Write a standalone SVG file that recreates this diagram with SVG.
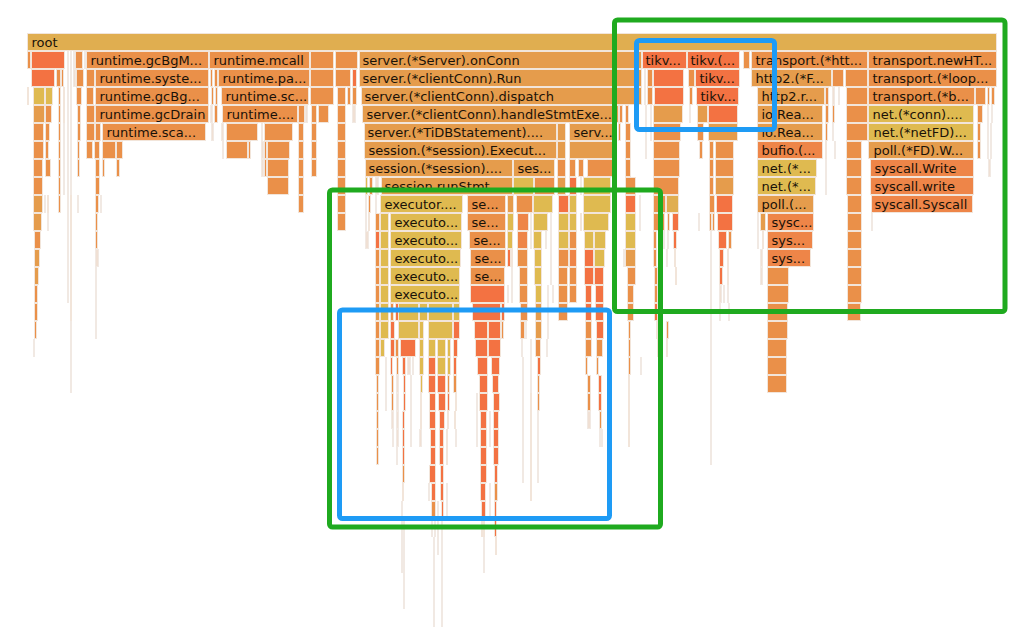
<svg xmlns="http://www.w3.org/2000/svg" width="1014" height="627" viewBox="0 0 1014 627">
<style>
#flame rect{height:17px;stroke:#f2e5da;stroke-width:1}
#flame .o{fill:#ea9049}#flame .a{fill:#e59c4c}#flame .y{fill:#dfba50}#flame .r{fill:#f37242}#flame .d{fill:#ee8548}#flame .k{fill:#e0ae50}#flame .p{fill:#f0e0d4;stroke:#f1e9e3}
text{font-family:"DejaVu Sans",Verdana,sans-serif;font-size:13px;fill:#1a1208}
.box{fill:none;stroke-width:5}
.gb{stroke:#1faa1f}.bb{stroke:#1e9bf5}
</style>
<rect width="1014" height="627" fill="#fff"/>
<g id="flame">
<g id="row0" transform="translate(.5,33.5)"><rect class="k" x="27" width="969"/><text x="31" y="13">root</text></g>
<g id="row1" transform="translate(.5,51.5)">
<rect class="o" x="27" width="3"/><rect class="r" x="31" width="33"/><rect class="p" x="67" width="1"/><rect class="p" x="70" width="1"/><rect class="p" x="73" width="1"/><rect class="o" x="75" width="7"/><rect class="p" x="84" width="1"/>
<rect class="o" x="86" width="122"/><rect class="o" x="209" width="100"/><rect class="o" x="310" width="23"/><rect class="o" x="335" width="22"/><rect class="a" x="359" width="282"/><rect class="r" x="642" width="44"/><rect class="r" x="687" width="52"/><rect class="o" x="743" width="6"/><rect class="o" x="751" width="116"/><rect class="o" x="868" width="128"/>
<text x="90" y="13">runtime.gcBgM...</text><text x="213" y="13">runtime.mcall</text><text x="362" y="13">server.(*Server).onConn</text><text x="645" y="13">tikv...</text><text x="690" y="13">tikv.(...</text><text x="755" y="13">transport.(*htt...</text><text x="872" y="13">transport.newHT...</text></g>
<g id="row2" transform="translate(.5,69.5)">
<rect class="r" x="31" width="23"/><rect class="o" x="56" width="4"/><rect class="o" x="61" width="2"/><rect class="p" x="67" width="1"/><rect class="p" x="70" width="1"/><rect class="p" x="73" width="2"/><rect class="o" x="76" width="7"/><rect class="o" x="86" width="8"/>
<rect class="o" x="95" width="113"/><rect class="o" x="210" width="2"/><rect class="o" x="214" width="3"/><rect class="o" x="218" width="91"/><rect class="o" x="310" width="23"/><rect class="o" x="335" width="15"/><rect class="r" x="352" width="4"/><rect class="a" x="359" width="282"/><rect class="p" x="644" width="1"/><rect class="o" x="647" width="5"/><rect class="r" x="653" width="30"/><rect class="o" x="688" width="6"/><rect class="r" x="695" width="44"/><rect class="a" x="751" width="80"/><rect class="o" x="832" width="11"/><rect class="o" x="845" width="22"/><rect class="o" x="868" width="128"/>
<text x="99" y="13">runtime.syste...</text><text x="222" y="13">runtime.pa...</text><text x="362" y="13">server.(*clientConn).Run</text><text x="699" y="13">tikv...</text><text x="755" y="13">http2.(*F...</text><text x="872" y="13">transport.(*loop...</text></g>
<g id="row3" transform="translate(.5,87.5)">
<rect class="o" x="27" width="1"/><rect class="y" x="33" width="11"/><rect class="y" x="45" width="7"/><rect class="o" x="58" width="2"/><rect class="o" x="63" width="1"/><rect class="p" x="67" width="1"/><rect class="p" x="70" width="1"/><rect class="o" x="76" width="5"/><rect class="o" x="86" width="7"/>
<rect class="o" x="95" width="113"/><rect class="o" x="211" width="2"/><rect class="o" x="215" width="2"/><rect class="o" x="221" width="87"/><rect class="o" x="310" width="23"/><rect class="o" x="337" width="8"/><rect class="o" x="347" width="3"/><rect class="o" x="352" width="4"/><rect class="a" x="361" width="280"/><rect class="p" x="644" width="1"/><rect class="o" x="647" width="5"/><rect class="r" x="654" width="29"/><rect class="o" x="689" width="3"/><rect class="r" x="696" width="42"/><rect class="a" x="757" width="67"/><rect class="o" x="825" width="3"/><rect class="p" x="832" width="2"/><rect class="p" x="838" width="1"/><rect class="o" x="846" width="21"/><rect class="o" x="868" width="106"/><rect class="o" x="975" width="10"/><rect class="o" x="987" width="2"/><rect class="o" x="991" width="3"/>
<text x="99" y="13">runtime.gcBg...</text><text x="225" y="13">runtime.sc...</text><text x="364" y="13">server.(*clientConn).dispatch</text><text x="700" y="13">tikv...</text><text x="761" y="13">http2.r...</text><text x="872" y="13">transport.(*b...</text></g>
<g id="row4" transform="translate(.5,105.5)">
<rect class="a" x="33" width="11"/><rect class="o" x="45" width="6"/><rect class="o" x="58" width="2"/><rect class="o" x="63" width="1"/><rect class="p" x="67" width="1"/><rect class="p" x="70" width="1"/><rect class="o" x="77" width="3"/><rect class="o" x="86" width="8"/>
<rect class="o" x="95" width="113"/><rect class="p" x="210" width="2"/><rect class="o" x="214" width="3"/><rect class="o" x="222" width="75"/><rect class="o" x="298" width="6"/><rect class="p" x="305" width="2"/><rect class="o" x="311" width="5"/><rect class="o" x="318" width="10"/><rect class="o" x="337" width="8"/><rect class="p" x="352" width="3"/><rect class="a" x="362" width="256"/><rect class="o" x="619" width="3"/><rect class="o" x="625" width="3"/><rect class="p" x="645" width="1"/><rect class="p" x="650" width="1"/><rect class="a" x="653" width="29"/><rect class="p" x="689" width="1"/><rect class="a" x="697" width="10"/><rect class="r" x="708" width="29"/><rect class="a" x="757" width="65"/><rect class="o" x="825" width="3"/><rect class="o" x="832" width="2"/><rect class="o" x="846" width="21"/><rect class="y" x="868" width="105"/><rect class="o" x="977" width="5"/><rect class="p" x="987" width="1"/><rect class="p" x="991" width="1"/>
<text x="99" y="13">runtime.gcDrain</text><text x="226" y="13">runtime....</text><text x="366" y="13">server.(*clientConn).handleStmtExe...</text><text x="761" y="13">io.Rea...</text><text x="872" y="13">net.(*conn)....</text></g>
<g id="row5" transform="translate(.5,123.5)">
<rect class="o" x="33" width="10"/><rect class="o" x="45" width="4"/><rect class="o" x="58" width="2"/><rect class="p" x="63" width="1"/><rect class="p" x="67" width="1"/><rect class="p" x="70" width="1"/><rect class="o" x="77" width="3"/><rect class="o" x="86" width="8"/><rect class="o" x="95" width="5"/>
<rect class="o" x="102" width="103"/><rect class="p" x="211" width="2"/><rect class="p" x="221" width="2"/><rect class="o" x="226" width="31"/><rect class="p" x="261" width="1"/><rect class="o" x="264" width="28"/><rect class="o" x="298" width="5"/><rect class="o" x="311" width="5"/><rect class="o" x="337" width="8"/><rect class="a" x="364" width="192"/><rect class="a" x="557" width="8"/><rect class="a" x="569" width="44"/><rect class="o" x="618" width="2"/><rect class="o" x="625" width="5"/><rect class="p" x="645" width="1"/><rect class="p" x="650" width="1"/><rect class="o" x="653" width="27"/><rect class="o" x="697" width="6"/><rect class="a" x="708" width="29"/><rect class="a" x="757" width="65"/><rect class="o" x="825" width="2"/><rect class="p" x="832" width="1"/><rect class="o" x="846" width="21"/><rect class="y" x="868" width="105"/><rect class="o" x="977" width="3"/><rect class="p" x="987" width="1"/><rect class="p" x="990" width="1"/>
<text x="106" y="13">runtime.sca...</text><text x="367" y="13">server.(*TiDBStatement)....</text><text x="573" y="13">serv...</text><text x="761" y="13">io.Rea...</text><text x="873" y="13">net.(*netFD)...</text></g>
<g id="row6" transform="translate(.5,141.5)">
<rect class="o" x="33" width="10"/><rect class="o" x="45" width="3"/><rect class="o" x="58" width="2"/><rect class="p" x="63" width="1"/><rect class="p" x="67" width="1"/><rect class="p" x="70" width="1"/><rect class="o" x="77" width="2"/><rect class="o" x="86" width="6"/><rect class="o" x="94" width="5"/><rect class="o" x="102" width="13"/><rect class="o" x="116" width="6"/>
<rect class="p" x="222" width="1"/><rect class="o" x="226" width="21"/><rect class="o" x="248" width="2"/><rect class="p" x="261" width="2"/><rect class="o" x="264" width="2"/><rect class="o" x="267" width="22"/><rect class="o" x="298" width="5"/><rect class="o" x="311" width="5"/><rect class="o" x="337" width="8"/><rect class="a" x="364" width="192"/><rect class="a" x="557" width="8"/><rect class="a" x="569" width="44"/><rect class="o" x="625" width="5"/><rect class="p" x="645" width="1"/><rect class="o" x="653" width="26"/><rect class="o" x="699" width="3"/><rect class="o" x="709" width="4"/><rect class="o" x="715" width="18"/><rect class="d" x="757" width="65"/><rect class="o" x="825" width="1"/><rect class="p" x="834" width="1"/><rect class="o" x="846" width="15"/><rect class="a" x="868" width="105"/><rect class="o" x="977" width="3"/><rect class="p" x="987" width="1"/><rect class="p" x="990" width="1"/>
<text x="368" y="13">session.(*session).Execut...</text><text x="761" y="13">bufio.(...</text><text x="873" y="13">poll.(*FD).W...</text></g>
<g id="row7" transform="translate(.5,159.5)">
<rect class="o" x="33" width="9"/><rect class="o" x="45" width="5"/><rect class="o" x="58" width="2"/><rect class="p" x="63" width="1"/><rect class="p" x="67" width="1"/><rect class="p" x="70" width="1"/><rect class="o" x="77" width="2"/><rect class="o" x="95" width="4"/><rect class="o" x="102" width="2"/><rect class="o" x="116" width="3"/>
<rect class="p" x="261" width="2"/><rect class="o" x="264" width="2"/><rect class="o" x="267" width="21"/><rect class="o" x="298" width="5"/><rect class="o" x="311" width="5"/><rect class="o" x="337" width="8"/><rect class="a" x="365" width="147"/><rect class="a" x="513" width="41"/><rect class="o" x="557" width="8"/><rect class="o" x="569" width="6"/><rect class="o" x="578" width="5"/><rect class="o" x="587" width="26"/><rect class="o" x="625" width="5"/><rect class="o" x="653" width="26"/><rect class="o" x="709" width="4"/><rect class="o" x="715" width="18"/><rect class="y" x="757" width="59"/><rect class="p" x="825" width="1"/><rect class="o" x="846" width="15"/><rect class="d" x="870" width="103"/><rect class="p" x="988" width="2"/>
<text x="368" y="13">session.(*session)....</text><text x="517" y="13">ses...</text><text x="761" y="13">net.(*...</text><text x="874" y="13">syscall.Write</text></g>
<g id="row8" transform="translate(.5,177.5)">
<rect class="o" x="33" width="9"/><rect class="o" x="58" width="2"/><rect class="p" x="63" width="1"/><rect class="p" x="67" width="1"/><rect class="p" x="70" width="1"/><rect class="o" x="95" width="4"/><rect class="o" x="267" width="21"/><rect class="o" x="298" width="5"/><rect class="o" x="337" width="8"/>
<rect class="y" x="365" width="2"/><rect class="o" x="369" width="3"/><rect class="p" x="375" width="3"/><rect class="a" x="381" width="131"/><rect class="y" x="513" width="20"/><rect class="o" x="534" width="20"/><rect class="a" x="557" width="8"/><rect class="r" x="569" width="7"/><rect class="p" x="580" width="1"/><rect class="y" x="583" width="27"/><rect class="o" x="625" width="10"/><rect class="o" x="653" width="25"/><rect class="o" x="709" width="4"/><rect class="a" x="715" width="18"/><rect class="y" x="757" width="58"/><rect class="p" x="825" width="1"/><rect class="o" x="846" width="15"/><rect class="d" x="870" width="103"/>
<text x="384" y="13">session.runStmt</text><text x="761" y="13">net.(*...</text><text x="874" y="13">syscall.write</text></g>
<g id="row9" transform="translate(.5,195.5)">
<rect class="a" x="33" width="9"/><rect class="p" x="44" width="1"/><rect class="o" x="47" width="1"/><rect class="o" x="58" width="2"/><rect class="p" x="67" width="1"/><rect class="o" x="70" width="1"/><rect class="p" x="77" width="1"/><rect class="o" x="95" width="3"/><rect class="p" x="100" width="1"/><rect class="o" x="298" width="5"/>
<rect class="o" x="337" width="8"/><rect class="p" x="365" width="1"/><rect class="o" x="368" width="2"/><rect class="p" x="375" width="1"/><rect class="y" x="380" width="82"/><rect class="o" x="467" width="38"/><rect class="a" x="507" width="6"/><rect class="o" x="516" width="16"/><rect class="y" x="533" width="19"/><rect class="r" x="558" width="10"/><rect class="y" x="569" width="7"/><rect class="y" x="583" width="27"/><rect class="r" x="625" width="10"/><rect class="p" x="639" width="1"/><rect class="o" x="653" width="12"/><rect class="k" x="666" width="12"/><rect class="o" x="709" width="5"/><rect class="r" x="716" width="16"/><rect class="a" x="757" width="56"/><rect class="o" x="847" width="14"/><rect class="d" x="871" width="101"/>
<text x="384" y="13">executor....</text><text x="471" y="13">se...</text><text x="761" y="13">poll.(...</text><text x="874" y="13">syscall.Syscall</text></g>
<g id="row10" transform="translate(.5,213.5)">
<rect class="a" x="33" width="8"/><rect class="p" x="47" width="1"/><rect class="p" x="67" width="1"/><rect class="o" x="70" width="1"/><rect class="o" x="95" width="2"/><rect class="o" x="337" width="8"/><rect class="p" x="365" width="1"/><rect class="o" x="368" width="1"/><rect class="o" x="375" width="4"/><rect class="y" x="380" width="8"/>
<rect class="y" x="390" width="71"/><rect class="o" x="467" width="38"/><rect class="y" x="507" width="6"/><rect class="d" x="517" width="11"/><rect class="p" x="530" width="1"/><rect class="y" x="533" width="14"/><rect class="p" x="550" width="1"/><rect class="y" x="558" width="10"/><rect class="y" x="569" width="7"/><rect class="r" x="580" width="1"/><rect class="y" x="583" width="25"/><rect class="y" x="625" width="10"/><rect class="p" x="639" width="1"/><rect class="o" x="653" width="5"/><rect class="o" x="662" width="2"/><rect class="o" x="667" width="2"/><rect class="r" x="672" width="6"/><rect class="p" x="698" width="1"/><rect class="o" x="709" width="2"/><rect class="o" x="712" width="2"/><rect class="r" x="717" width="15"/><rect class="p" x="757" width="1"/><rect class="a" x="760" width="5"/><rect class="d" x="767" width="46"/><rect class="o" x="847" width="14"/><rect class="p" x="871" width="1"/>
<text x="394" y="13">executo...</text><text x="471" y="13">se...</text><text x="771" y="13">sysc...</text></g>
<g id="row11" transform="translate(.5,231.5)">
<rect class="o" x="34" width="6"/><rect class="p" x="67" width="1"/><rect class="o" x="70" width="1"/><rect class="o" x="95" width="2"/><rect class="p" x="365" width="3"/><rect class="r" x="375" width="4"/><rect class="y" x="380" width="8"/>
<rect class="y" x="390" width="71"/><rect class="o" x="469" width="36"/><rect class="y" x="507" width="5"/><rect class="d" x="517" width="10"/><rect class="p" x="530" width="1"/><rect class="y" x="533" width="8"/><rect class="p" x="545" width="1"/><rect class="p" x="550" width="1"/><rect class="y" x="558" width="10"/><rect class="o" x="569" width="7"/><rect class="y" x="584" width="9"/><rect class="y" x="594" width="11"/><rect class="y" x="625" width="10"/><rect class="o" x="653" width="3"/><rect class="p" x="663" width="1"/><rect class="p" x="667" width="1"/><rect class="r" x="673" width="3"/><rect class="p" x="710" width="1"/><rect class="r" x="718" width="8"/><rect class="o" x="728" width="3"/><rect class="p" x="757" width="1"/><rect class="o" x="762" width="1"/><rect class="d" x="767" width="45"/><rect class="o" x="847" width="14"/>
<text x="394" y="13">executo...</text><text x="473" y="13">se...</text><text x="771" y="13">sys...</text></g>
<g id="row12" transform="translate(.5,249.5)">
<rect class="a" x="34" width="5"/><rect class="p" x="67" width="1"/><rect class="y" x="70" width="1"/><rect class="p" x="95" width="3"/><rect class="o" x="375" width="4"/><rect class="y" x="380" width="8"/>
<rect class="y" x="390" width="70"/><rect class="o" x="470" width="35"/><rect class="r" x="507" width="3"/><rect class="o" x="511" width="1"/><rect class="o" x="517" width="10"/><rect class="y" x="534" width="7"/><rect class="p" x="550" width="1"/><rect class="o" x="558" width="10"/><rect class="d" x="569" width="7"/><rect class="r" x="584" width="9"/><rect class="y" x="594" width="10"/><rect class="a" x="625" width="10"/><rect class="p" x="623" width="1"/><rect class="o" x="653" width="3"/><rect class="p" x="666" width="1"/><rect class="o" x="674" width="1"/><rect class="p" x="710" width="1"/><rect class="r" x="719" width="4"/><rect class="o" x="727" width="1"/><rect class="p" x="760" width="2"/><rect class="d" x="767" width="43"/><rect class="o" x="847" width="14"/>
<text x="394" y="13">executo...</text><text x="474" y="13">se...</text><text x="771" y="13">sys...</text></g>
<g id="row13" transform="translate(.5,267.5)">
<rect class="a" x="34" width="4"/><rect class="p" x="67" width="1"/><rect class="y" x="70" width="1"/><rect class="p" x="95" width="1"/><rect class="o" x="375" width="4"/><rect class="y" x="380" width="8"/>
<rect class="y" x="390" width="69"/><rect class="o" x="470" width="34"/><rect class="p" x="511" width="1"/><rect class="o" x="519" width="8"/><rect class="y" x="534" width="7"/><rect class="p" x="550" width="1"/><rect class="o" x="558" width="9"/><rect class="o" x="569" width="7"/><rect class="r" x="584" width="9"/><rect class="r" x="594" width="9"/><rect class="o" x="627" width="8"/><rect class="o" x="654" width="3"/><rect class="o" x="675" width="1"/><rect class="p" x="710" width="1"/><rect class="r" x="719" width="3"/><rect class="o" x="727" width="1"/><rect class="p" x="760" width="2"/><rect class="o" x="767" width="21"/><rect class="o" x="847" width="14"/>
<text x="394" y="13">executo...</text><text x="474" y="13">se...</text></g>
<g id="row14" transform="translate(.5,285.5)">
<rect class="o" x="34" width="3"/><rect class="p" x="67" width="1"/><rect class="y" x="70" width="1"/><rect class="p" x="95" width="1"/><rect class="o" x="375" width="4"/><rect class="y" x="380" width="8"/>
<rect class="y" x="390" width="69"/><rect class="r" x="470" width="34"/><rect class="p" x="507" width="1"/><rect class="p" x="511" width="1"/><rect class="o" x="519" width="8"/><rect class="y" x="535" width="6"/><rect class="p" x="547" width="1"/><rect class="p" x="552" width="1"/><rect class="o" x="558" width="9"/><rect class="o" x="569" width="7"/><rect class="r" x="585" width="6"/><rect class="r" x="595" width="8"/><rect class="o" x="627" width="6"/><rect class="o" x="654" width="3"/><rect class="p" x="710" width="1"/><rect class="p" x="719" width="2"/><rect class="p" x="723" width="1"/><rect class="p" x="727" width="1"/><rect class="o" x="767" width="21"/><rect class="o" x="847" width="14"/>
<text x="394" y="13">executo...</text></g>
<g id="row15" transform="translate(.5,303.5)">
<rect class="o" x="34" width="3"/><rect class="y" x="70" width="1"/><rect class="p" x="95" width="1"/><rect class="a" x="375" width="4"/><rect class="y" x="380" width="8"/><rect class="o" x="390" width="3"/><rect class="r" x="395" width="3"/><rect class="y" x="398" width="20"/><rect class="y" x="419" width="8"/><rect class="y" x="428" width="24"/><rect class="y" x="453" width="6"/><rect class="r" x="472" width="28"/><rect class="r" x="501" width="3"/><rect class="o" x="520" width="7"/><rect class="a" x="535" width="6"/><rect class="p" x="547" width="1"/><rect class="o" x="558" width="9"/><rect class="r" x="585" width="6"/><rect class="r" x="595" width="8"/><rect class="o" x="627" width="6"/><rect class="r" x="654" width="3"/><rect class="p" x="710" width="1"/><rect class="p" x="719" width="1"/><rect class="p" x="728" width="1"/><rect class="o" x="767" width="20"/><rect class="o" x="847" width="13"/></g>
<g id="row16" transform="translate(.5,321.5)">
<rect class="o" x="34" width="2"/><rect class="p" x="70" width="1"/><rect class="p" x="95" width="1"/><rect class="o" x="375" width="4"/><rect class="y" x="380" width="8"/><rect class="r" x="390" width="4"/><rect class="y" x="398" width="20"/><rect class="y" x="419" width="4"/><rect class="y" x="428" width="24"/><rect class="r" x="453" width="6"/><rect class="r" x="474" width="13"/><rect class="r" x="488" width="12"/><rect class="o" x="501" width="2"/><rect class="o" x="520" width="4"/><rect class="p" x="525" width="1"/><rect class="a" x="535" width="6"/><rect class="p" x="547" width="1"/><rect class="o" x="585" width="6"/><rect class="r" x="596" width="7"/><rect class="o" x="628" width="2"/><rect class="d" x="656" width="1"/><rect class="o" x="666" width="2"/><rect class="p" x="710" width="1"/><rect class="o" x="767" width="20"/></g>
<g id="row17" transform="translate(.5,339.5)">
<rect class="p" x="33" width="1"/><rect class="p" x="70" width="1"/><rect class="o" x="375" width="4"/><rect class="y" x="380" width="4"/><rect class="r" x="390" width="4"/><rect class="o" x="395" width="3"/><rect class="r" x="400" width="15"/><rect class="y" x="419" width="4"/><rect class="y" x="428" width="7"/><rect class="y" x="437" width="8"/><rect class="y" x="447" width="3"/><rect class="r" x="453" width="4"/><rect class="r" x="475" width="12"/><rect class="r" x="488" width="12"/><rect class="p" x="521" width="1"/><rect class="p" x="530" width="1"/><rect class="o" x="535" width="5"/><rect class="p" x="546" width="1"/><rect class="o" x="585" width="6"/><rect class="o" x="596" width="6"/><rect class="o" x="628" width="2"/><rect class="d" x="657" width="1"/><rect class="o" x="666" width="1"/><rect class="p" x="710" width="1"/><rect class="o" x="767" width="19"/></g>
<g id="row18" transform="translate(.5,357.5)">
<rect class="p" x="70" width="1"/><rect class="o" x="375" width="4"/><rect class="p" x="385" width="1"/><rect class="r" x="390" width="2"/><rect class="o" x="396" width="2"/><rect class="r" x="402" width="3"/><rect class="p" x="407" width="3"/><rect class="p" x="412" width="1"/><rect class="y" x="419" width="4"/><rect class="r" x="428" width="7"/><rect class="y" x="437" width="8"/><rect class="y" x="447" width="3"/><rect class="r" x="453" width="3"/><rect class="r" x="477" width="10"/><rect class="r" x="491" width="8"/><rect class="p" x="522" width="1"/><rect class="p" x="530" width="1"/><rect class="r" x="537" width="3"/><rect class="o" x="585" width="2"/><rect class="o" x="596" width="2"/><rect class="o" x="628" width="2"/><rect class="p" x="640" width="1"/><rect class="p" x="710" width="1"/><rect class="o" x="767" width="19"/></g>
<g id="row19" transform="translate(.5,375.5)">
<rect class="p" x="70" width="1"/><rect class="o" x="376" width="2"/><rect class="p" x="385" width="1"/><rect class="o" x="391" width="2"/><rect class="p" x="396" width="2"/><rect class="r" x="403" width="2"/><rect class="p" x="410" width="1"/><rect class="y" x="420" width="2"/><rect class="r" x="428" width="7"/><rect class="r" x="437" width="8"/><rect class="o" x="447" width="2"/><rect class="o" x="453" width="3"/><rect class="r" x="479" width="8"/><rect class="r" x="492" width="6"/><rect class="p" x="522" width="1"/><rect class="p" x="530" width="1"/><rect class="o" x="537" width="2"/><rect class="o" x="587" width="3"/><rect class="r" x="598" width="3"/><rect class="o" x="628" width="1"/><rect class="p" x="710" width="1"/><rect class="o" x="767" width="19"/></g>
<g id="row20" transform="translate(.5,393.5)">
<rect class="o" x="376" width="2"/><rect class="p" x="385" width="1"/><rect class="o" x="391" width="2"/><rect class="p" x="396" width="2"/><rect class="r" x="403" width="2"/><rect class="p" x="410" width="1"/><rect class="y" x="420" width="1"/><rect class="r" x="429" width="6"/><rect class="r" x="438" width="7"/><rect class="r" x="447" width="2"/><rect class="o" x="455" width="1"/><rect class="p" x="476" width="1"/><rect class="r" x="479" width="8"/><rect class="r" x="493" width="6"/><rect class="p" x="522" width="1"/><rect class="o" x="530" width="1"/><rect class="o" x="537" width="2"/><rect class="o" x="587" width="3"/><rect class="r" x="598" width="3"/><rect class="o" x="628" width="1"/><rect class="p" x="710" width="1"/></g>
<g id="row21" transform="translate(.5,411.5)">
<rect class="o" x="376" width="2"/><rect class="p" x="391" width="2"/><rect class="p" x="396" width="2"/><rect class="r" x="402" width="2"/><rect class="p" x="410" width="1"/><rect class="y" x="420" width="1"/><rect class="r" x="429" width="6"/><rect class="r" x="439" width="5"/><rect class="r" x="447" width="1"/><rect class="o" x="454" width="1"/><rect class="p" x="476" width="1"/><rect class="r" x="480" width="6"/><rect class="p" x="489" width="1"/><rect class="r" x="493" width="5"/><rect class="p" x="522" width="1"/><rect class="o" x="530" width="1"/><rect class="p" x="537" width="1"/><rect class="p" x="587" width="3"/><rect class="o" x="599" width="2"/><rect class="o" x="628" width="1"/><rect class="p" x="710" width="1"/></g>
<g id="row22" transform="translate(.5,429.5)">
<rect class="o" x="376" width="2"/><rect class="p" x="392" width="1"/><rect class="p" x="396" width="2"/><rect class="r" x="402" width="2"/><rect class="p" x="410" width="1"/><rect class="p" x="419" width="2"/><rect class="r" x="430" width="5"/><rect class="r" x="439" width="4"/><rect class="o" x="446" width="1"/><rect class="p" x="455" width="1"/><rect class="p" x="476" width="1"/><rect class="r" x="480" width="6"/><rect class="p" x="489" width="1"/><rect class="r" x="493" width="5"/><rect class="p" x="522" width="1"/><rect class="o" x="530" width="1"/><rect class="p" x="537" width="1"/><rect class="p" x="599" width="1"/><rect class="p" x="601" width="1"/><rect class="o" x="628" width="1"/><rect class="p" x="710" width="1"/></g>
<g id="row23" transform="translate(.5,447.5)">
<rect class="o" x="376" width="2"/><rect class="p" x="396" width="1"/><rect class="r" x="402" width="2"/><rect class="r" x="430" width="5"/><rect class="r" x="439" width="4"/><rect class="o" x="446" width="1"/><rect class="r" x="480" width="6"/><rect class="r" x="493" width="5"/><rect class="p" x="522" width="1"/><rect class="o" x="530" width="1"/><rect class="p" x="537" width="1"/><rect class="p" x="710" width="1"/></g>
<g id="row24" transform="translate(.5,465.5)">
<rect class="o" x="402" width="2"/><rect class="r" x="429" width="6"/><rect class="r" x="440" width="3"/><rect class="r" x="480" width="6"/><rect class="r" x="494" width="3"/><rect class="p" x="522" width="1"/><rect class="o" x="530" width="1"/><rect class="p" x="537" width="1"/></g>
<g id="row25" transform="translate(.5,483.5)">
<rect class="o" x="402" width="1"/><rect class="p" x="428" width="1"/><rect class="r" x="431" width="4"/><rect class="r" x="440" width="3"/><rect class="p" x="446" width="1"/><rect class="r" x="480" width="5"/><rect class="p" x="489" width="1"/><rect class="o" x="494" width="3"/><rect class="o" x="530" width="1"/></g>
<g id="row26" transform="translate(.5,501.5)">
<rect class="p" x="401" width="1"/><rect class="o" x="431" width="4"/><rect class="p" x="437" width="1"/><rect class="r" x="441" width="2"/><rect class="p" x="446" width="1"/><rect class="r" x="481" width="4"/><rect class="p" x="489" width="1"/><rect class="r" x="494" width="2"/></g>
<g id="row27" transform="translate(.5,519.5)">
<rect class="p" x="401" width="1"/><rect class="p" x="403" width="1"/><rect class="p" x="431" width="1"/><rect class="p" x="434" width="1"/><rect class="p" x="437" width="1"/><rect class="p" x="441" width="1"/><rect class="o" x="481" width="1"/><rect class="o" x="483" width="1"/><rect class="r" x="494" width="2"/></g>
<g id="row28" transform="translate(.5,537.5)">
<rect class="p" x="401" width="1"/><rect class="p" x="403" width="1"/><rect class="p" x="433" width="1"/><rect class="p" x="437" width="1"/><rect class="p" x="441" width="1"/><rect class="p" x="483" width="1"/><rect class="o" x="495" width="1"/></g>
<g id="row29" transform="translate(.5,555.5)">
<rect class="p" x="401" width="1"/><rect class="p" x="403" width="1"/><rect class="p" x="433" width="1"/><rect class="p" x="441" width="1"/><rect class="p" x="483" width="1"/></g>
<g id="row30" transform="translate(.5,573.5)"><rect class="p" x="403" width="1"/><rect class="p" x="433" width="1"/><rect class="p" x="441" width="1"/></g>
<g id="row31" transform="translate(.5,591.5)"><rect class="p" x="403" width="1"/><rect class="p" x="433" width="1"/><rect class="p" x="441" width="1"/></g>
<g id="row32" transform="translate(.5,609.5)"><rect class="p" x="433" width="1"/><rect class="p" x="441" width="1"/></g>
</g>
<g id="highlights">
<rect class="box gb" x="614.5" y="20" width="390.5" height="291.5" rx="3"/>
<rect class="box gb" x="329.5" y="190" width="331" height="337" rx="3"/>
<rect class="box bb" x="636.5" y="40.5" width="138" height="89" rx="3"/>
<rect class="box bb" x="339.5" y="310" width="270" height="208.5" rx="3"/>
</g>
</svg>
